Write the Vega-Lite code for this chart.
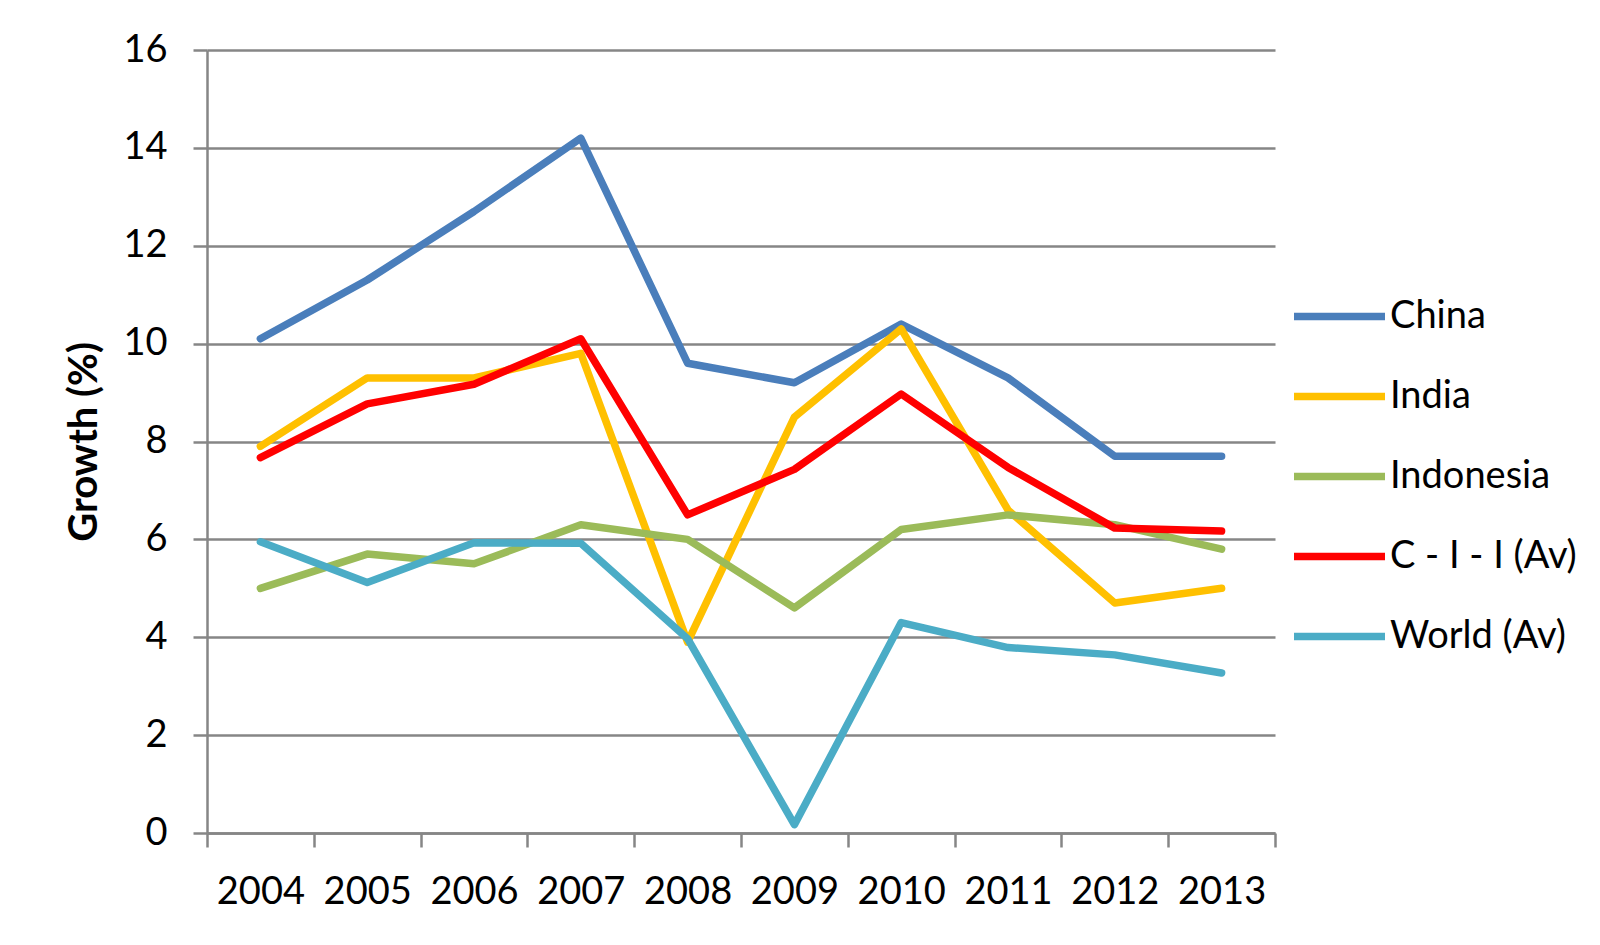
{
  "$schema": "https://vega.github.io/schema/vega-lite/v6.json",
  "width": 1068,
  "height": 783,
  "autosize": {"type": "none"},
  "padding": {"left": 207, "top": 50, "right": 325, "bottom": 112},
  "background": "white",
  "config": {
    "view": {"stroke": null},
    "font": "Lato",
    "axis": {"labelColor": "black", "titleColor": "black"}
  },
  "data": {
    "values": [
      {"year": 2004, "series": "China", "growth": 10.1},
      {"year": 2005, "series": "China", "growth": 11.3},
      {"year": 2006, "series": "China", "growth": 12.7},
      {"year": 2007, "series": "China", "growth": 14.2},
      {"year": 2008, "series": "China", "growth": 9.6},
      {"year": 2009, "series": "China", "growth": 9.2},
      {"year": 2010, "series": "China", "growth": 10.4},
      {"year": 2011, "series": "China", "growth": 9.3},
      {"year": 2012, "series": "China", "growth": 7.7},
      {"year": 2013, "series": "China", "growth": 7.7},
      {"year": 2004, "series": "India", "growth": 7.9},
      {"year": 2005, "series": "India", "growth": 9.3},
      {"year": 2006, "series": "India", "growth": 9.3},
      {"year": 2007, "series": "India", "growth": 9.8},
      {"year": 2008, "series": "India", "growth": 3.9},
      {"year": 2009, "series": "India", "growth": 8.5},
      {"year": 2010, "series": "India", "growth": 10.3},
      {"year": 2011, "series": "India", "growth": 6.6},
      {"year": 2012, "series": "India", "growth": 4.7},
      {"year": 2013, "series": "India", "growth": 5.0},
      {"year": 2004, "series": "Indonesia", "growth": 5.0},
      {"year": 2005, "series": "Indonesia", "growth": 5.7},
      {"year": 2006, "series": "Indonesia", "growth": 5.5},
      {"year": 2007, "series": "Indonesia", "growth": 6.3},
      {"year": 2008, "series": "Indonesia", "growth": 6.0},
      {"year": 2009, "series": "Indonesia", "growth": 4.6},
      {"year": 2010, "series": "Indonesia", "growth": 6.2},
      {"year": 2011, "series": "Indonesia", "growth": 6.5},
      {"year": 2012, "series": "Indonesia", "growth": 6.3},
      {"year": 2013, "series": "Indonesia", "growth": 5.8},
      {"year": 2004, "series": "C - I - I (Av)", "growth": 7.67},
      {"year": 2005, "series": "C - I - I (Av)", "growth": 8.77},
      {"year": 2006, "series": "C - I - I (Av)", "growth": 9.17},
      {"year": 2007, "series": "C - I - I (Av)", "growth": 10.1},
      {"year": 2008, "series": "C - I - I (Av)", "growth": 6.5},
      {"year": 2009, "series": "C - I - I (Av)", "growth": 7.43},
      {"year": 2010, "series": "C - I - I (Av)", "growth": 8.97},
      {"year": 2011, "series": "C - I - I (Av)", "growth": 7.47},
      {"year": 2012, "series": "C - I - I (Av)", "growth": 6.23},
      {"year": 2013, "series": "C - I - I (Av)", "growth": 6.17},
      {"year": 2004, "series": "World (Av)", "growth": 5.95},
      {"year": 2005, "series": "World (Av)", "growth": 5.12},
      {"year": 2006, "series": "World (Av)", "growth": 5.93},
      {"year": 2007, "series": "World (Av)", "growth": 5.92},
      {"year": 2008, "series": "World (Av)", "growth": 3.97},
      {"year": 2009, "series": "World (Av)", "growth": 0.17},
      {"year": 2010, "series": "World (Av)", "growth": 4.3},
      {"year": 2011, "series": "World (Av)", "growth": 3.79},
      {"year": 2012, "series": "World (Av)", "growth": 3.64},
      {"year": 2013, "series": "World (Av)", "growth": 3.27}
    ]
  },
  "mark": {"type": "line", "strokeWidth": 7.5, "strokeJoin": "round", "strokeCap": "round"},
  "encoding": {
    "x": {
      "field": "year",
      "type": "quantitative",
      "scale": {"domain": [2003.5, 2013.5], "nice": false, "zero": false},
      "axis": {
        "title": null,
        "values": [2003.5, 2004.5, 2005.5, 2006.5, 2007.5, 2008.5, 2009.5, 2010.5, 2011.5, 2012.5, 2013.5],
        "labelExpr": "datum.value > 2013 ? '' : format(datum.value + 0.5, 'd')",
        "labelOffset": 53.4,
        "labelFlush": false,
        "labelOverlap": false,
        "labelBound": false,
        "labelFontSize": 38,
        "labelPadding": 26,
        "labelColor": "black",
        "tickSize": 14,
        "tickColor": "#868686",
        "tickWidth": 2.5,
        "domainColor": "#868686",
        "domainWidth": 2.5,
        "grid": false
      }
    },
    "y": {
      "field": "growth",
      "type": "quantitative",
      "scale": {"domain": [0, 16], "nice": false},
      "axis": {
        "title": "Growth (%)",
        "titleFontSize": 40,
        "titleFontWeight": "bold",
        "titlePadding": 18,
        "values": [0, 2, 4, 6, 8, 10, 12, 14, 16],
        "labelFontSize": 38,
        "labelPadding": 26,
        "labelColor": "black",
        "tickSize": 14,
        "tickColor": "#868686",
        "tickWidth": 2.5,
        "domainColor": "#868686",
        "domainWidth": 2.5,
        "grid": true,
        "gridColor": "#868686",
        "gridWidth": 2.5
      }
    },
    "color": {
      "field": "series",
      "type": "nominal",
      "sort": null,
      "scale": {
        "domain": ["China", "India", "Indonesia", "C - I - I (Av)", "World (Av)"],
        "range": ["#4A7EBB", "#FFC000", "#9BBB59", "#FF0000", "#4BACC6"]
      },
      "legend": {
        "title": null,
        "orient": "none",
        "legendX": 1083,
        "legendY": 217,
        "symbolType": "stroke",
        "symbolSize": 8281,
        "symbolStrokeWidth": 7.5,
        "labelFontSize": 38,
        "labelColor": "black",
        "labelOffset": 1,
        "labelLimit": 400,
        "rowPadding": 11,
        "padding": 0
      }
    }
  }
}
